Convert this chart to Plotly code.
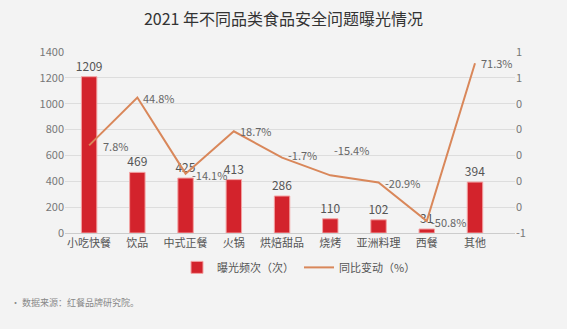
import plotly.graph_objects as go

categories = ["小吃快餐", "饮品", "中式正餐", "火锅", "烘焙甜品", "烧烤", "亚洲料理", "西餐", "其他"]
exposure = [1209, 469, 425, 413, 286, 110, 102, 31, 394]
yoy = [0.078, 0.448, -0.141, 0.187, -0.017, -0.154, -0.209, -0.508, 0.713]
yoy_labels = ["7.8%", "44.8%", "-14.1%", "18.7%", "-1.7%", "-15.4%", "-20.9%", "-50.8%", "71.3%"]
left_ticks = [0, 200, 400, 600, 800, 1000, 1200, 1400]
right_tickvals = [-0.6, -0.4, -0.2, 0, 0.2, 0.4, 0.6, 0.8]
right_ticktext = ["-1", "0", "0", "0", "0", "0", "1", "1"]

# label offsets (pixels) for the line labels
label_xshift = [12, 4, 4, 4, 4, 2, 4, 2, 4]
label_yshift = [-1, 0, -1, 0, 3, 25, -1, -1, 0]

FONT = "Noto Sans CJK SC"

fig = go.Figure()
fig.add_trace(go.Bar(
    x=categories, y=exposure, name="曝光频次（次）",
    marker=dict(color="#d3232c", line=dict(color="#f3a3a3", width=1)),
    width=0.32,
    text=[str(v) for v in exposure], textposition="outside",
    constraintext="none",
    textfont=dict(size=12, color="#555555", family=FONT),
    cliponaxis=False,
))
fig.add_trace(go.Scatter(
    x=categories, y=yoy, name="同比变动（%）", yaxis="y2",
    mode="lines", line=dict(color="#d9875a", width=2),
    cliponaxis=False,
))

annotations = []
for c, v, t, dx, dy in zip(categories, yoy, yoy_labels, label_xshift, label_yshift):
    annotations.append(dict(text=t, x=c, y=v, xref="x", yref="y2", xanchor="left",
                            yanchor="middle", showarrow=False, xshift=dx, yshift=dy,
                            font=dict(size=11, color="#666666", family=FONT)))
annotations.append(dict(text="• 数据来源：红餐品牌研究院。", xref="paper", yref="paper",
                        x=-0.125, y=-0.385, xanchor="left", yanchor="middle", showarrow=False,
                        font=dict(size=9, color="#888888", family=FONT)))

fig.update_layout(
    width=567, height=329,
    margin=dict(l=65, r=52, t=52, b=96),
    paper_bgcolor="#f3f3f3", plot_bgcolor="#f3f3f3",
    font=dict(family=FONT, size=11, color="#666666"),
    title=dict(text="2021 年不同品类食品安全问题曝光情况", x=0.5, xanchor="center",
               y=0.94, yanchor="middle",
               font=dict(size=16, color="#333333", family=FONT)),
    showlegend=True,
    legend=dict(orientation="h", x=0.52, xanchor="center", y=-0.19, yanchor="middle",
                font=dict(size=11, color="#555555", family=FONT),
                bgcolor="rgba(0,0,0,0)", itemwidth=30, tracegroupgap=0),
    xaxis=dict(type="category", showgrid=False, showline=True, linecolor="#cccccc",
               ticks="", tickfont=dict(size=11, color="#555555")),
    yaxis=dict(range=[0, 1400], tickvals=left_ticks, showgrid=True, gridcolor="#dddddd",
               zeroline=False, ticks="", tickfont=dict(size=11, color="#777777")),
    yaxis2=dict(range=[-0.6, 0.8], overlaying="y", side="right", tickvals=right_tickvals,
                ticktext=right_ticktext, showgrid=False, zeroline=False, ticks="",
                tickfont=dict(size=11, color="#777777")),
    bargap=0.6,
    annotations=annotations,
)

fig.write_html("out.html")
